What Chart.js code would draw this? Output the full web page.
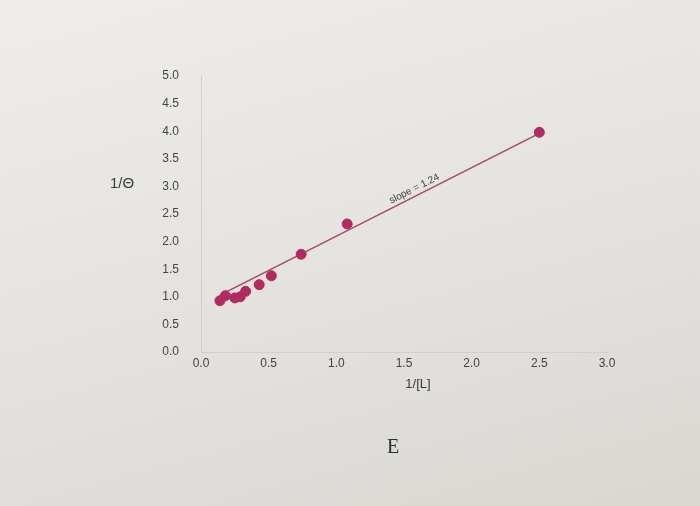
<!DOCTYPE html>
<html>
<head>
<meta charset="utf-8">
<script src="https://cdn.jsdelivr.net/npm/chart.js@4/dist/chart.umd.min.js"></script>
<style>
  html, body { margin: 0; padding: 0; }
  body { width: 700px; height: 506px; background: linear-gradient(165deg, #eeedea 0%, #e4e2de 55%, #d9d7d2 100%); }
  #wrap { width: 700px; height: 506px; position: relative; }
</style>
</head>
<body>
<div id="wrap"><canvas id="chart1"></canvas></div>
<script>
  // values
  const invL = [0.14, 0.18, 0.25, 0.29, 0.33, 0.43, 0.52, 0.74, 1.08, 2.5];
  const invTheta = [0.93, 1.02, 0.98, 1.00, 1.10, 1.22, 1.38, 1.77, 2.32, 3.98];
  const fitX = [0.14, 2.5];
  const fitY = [1.03, 3.96];
  const xTicks = [0, 0.5, 1.0, 1.5, 2.0, 2.5, 3.0];
  const yTicks = [0, 0.5, 1.0, 1.5, 2.0, 2.5, 3.0, 3.5, 4.0, 4.5, 5.0];
  const slopeText = 'slope = 1.24';

  const pointColor = '#b22a5f';
  const lineColor = '#a8476a';

  // axis titles, slope note and the "E" caption
  const labelsPlugin = {
    id: 'labels',
    afterDraw(chart) {
      const ctx = chart.ctx;
      const xs = chart.scales.x, ys = chart.scales.y;
      ctx.save();
      ctx.fillStyle = '#3a3a3a';
      ctx.textAlign = 'center';
      ctx.textBaseline = 'middle';
      ctx.font = '15px "Liberation Sans", Arial, sans-serif';
      ctx.fillText('1/\u0398', 122, 184);
      ctx.font = '13px "Liberation Sans", Arial, sans-serif';
      ctx.fillText('1/[L]', 418, 384);
      ctx.font = '20px "Liberation Serif", "Times New Roman", serif';
      ctx.fillStyle = '#2e2e2e';
      ctx.fillText('E', 393, 448);

      // slope note along the fit line
      const x0 = xs.getPixelForValue(fitX[0]), y0 = ys.getPixelForValue(fitY[0]);
      const x1 = xs.getPixelForValue(fitX[1]), y1 = ys.getPixelForValue(fitY[1]);
      const ang = Math.atan2(y1 - y0, x1 - x0);
      const at = 1.6;
      const mx = xs.getPixelForValue(at);
      const my = ys.getPixelForValue(fitY[0] + (at - fitX[0]) * (fitY[1] - fitY[0]) / (fitX[1] - fitX[0]));
      ctx.translate(mx, my);
      ctx.rotate(ang);
      ctx.font = '10px "Liberation Sans", Arial, sans-serif';
      ctx.fillStyle = '#444';
      ctx.textBaseline = 'bottom';
      ctx.fillText(slopeText, 0, -2);
      ctx.restore();
    }
  };

  const ctx = document.getElementById('chart1').getContext('2d');
  new Chart(ctx, {
    type: 'scatter',
    data: {
      datasets: [{
        label: 'fit',
        type: 'line',
        data: fitX.map((x, i) => ({ x: x, y: fitY[i] })),
        borderColor: lineColor,
        borderWidth: 1.5,
        pointRadius: 0,
        fill: false,
        order: 2
      }, {
        label: '1/Θ',
        data: invL.map((x, i) => ({ x: x, y: invTheta[i] })),
        backgroundColor: pointColor,
        borderColor: pointColor,
        pointRadius: 5,
        order: 1
      }]
    },
    options: {
      responsive: true,
      maintainAspectRatio: false,
      animation: false,
      layout: { padding: { left: 130, right: 93, top: 76, bottom: 124 } },
      plugins: { legend: { display: false }, tooltip: { enabled: false } },
      scales: {
        x: {
          type: 'linear',
          min: 0, max: 3,
          afterBuildTicks: s => { s.ticks = xTicks.map(v => ({ value: v })); },
          afterFit: s => { s.height = 30; },
          grid: { display: false },
          border: { display: true, color: '#d2d0cb' },
          ticks: {
            padding: -4,
            color: '#444',
            font: { size: 12, family: '"Liberation Sans", Arial, sans-serif' },
            callback: v => v.toFixed(1)
          }
        },
        y: {
          type: 'linear',
          min: 0, max: 5,
          afterBuildTicks: s => { s.ticks = yTicks.map(v => ({ value: v })); },
          afterFit: s => { s.width = 71; },
          grid: { display: false },
          border: { display: true, color: '#d2d0cb' },
          ticks: {
            padding: 14,
            color: '#444',
            font: { size: 12, family: '"Liberation Sans", Arial, sans-serif' },
            callback: v => v.toFixed(1)
          }
        }
      }
    },
    plugins: [labelsPlugin]
  });
</script>
</body>
</html>
